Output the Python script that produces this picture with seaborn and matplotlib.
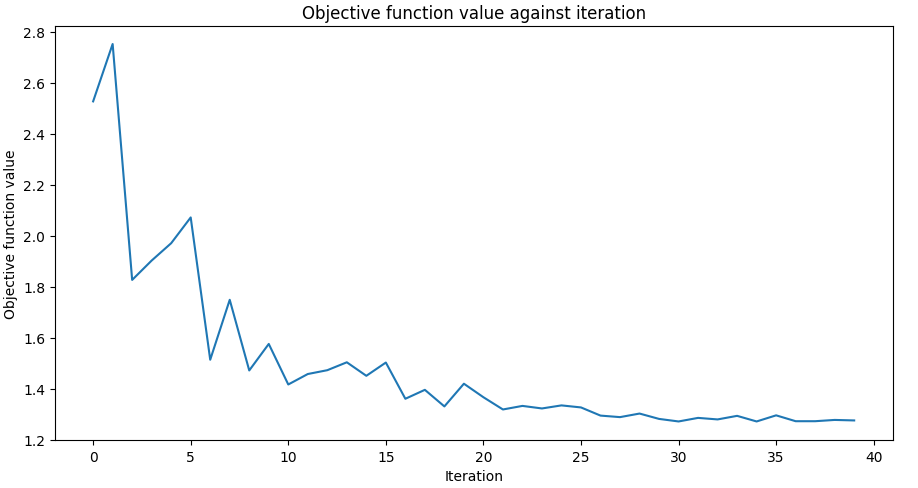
import numpy as np
import pandas as pd
import matplotlib
matplotlib.use('Agg')
import matplotlib.pyplot as plt
import seaborn as sns

# objective value per iteration
iteration = list(range(40))
objective = [2.527, 2.752, 1.827, 1.903, 1.971, 2.072, 1.514, 1.749, 1.472, 1.576,
             1.417, 1.458, 1.473, 1.504, 1.451, 1.503, 1.361, 1.396, 1.331, 1.420,
             1.367, 1.319, 1.333, 1.323, 1.335, 1.327, 1.295, 1.289, 1.303, 1.282,
             1.272, 1.286, 1.280, 1.294, 1.272, 1.296, 1.273, 1.273, 1.278, 1.276]

df = pd.DataFrame({'Iteration': iteration, 'Objective function value': objective})

fig, ax = plt.subplots(figsize=(9.18, 4.89), dpi=100)
sns.lineplot(data=df, x='Iteration', y='Objective function value', color='#1f77b4', ax=ax)
ax.set_title('Objective function value against iteration')
ax.set_xlabel('Iteration')
ax.set_ylabel('Objective function value')
ax.set_xticks([0, 5, 10, 15, 20, 25, 30, 35, 40])
ax.set_yticks([1.2, 1.4, 1.6, 1.8, 2.0, 2.2, 2.4, 2.6, 2.8])
ax.set_xlim(-1.95, 41.0)
ax.set_ylim(1.199, 2.823)
fig.subplots_adjust(left=0.06, right=0.973, top=0.945, bottom=0.098)
fig.savefig('out.png', dpi=100, facecolor='white')
plt.close()
